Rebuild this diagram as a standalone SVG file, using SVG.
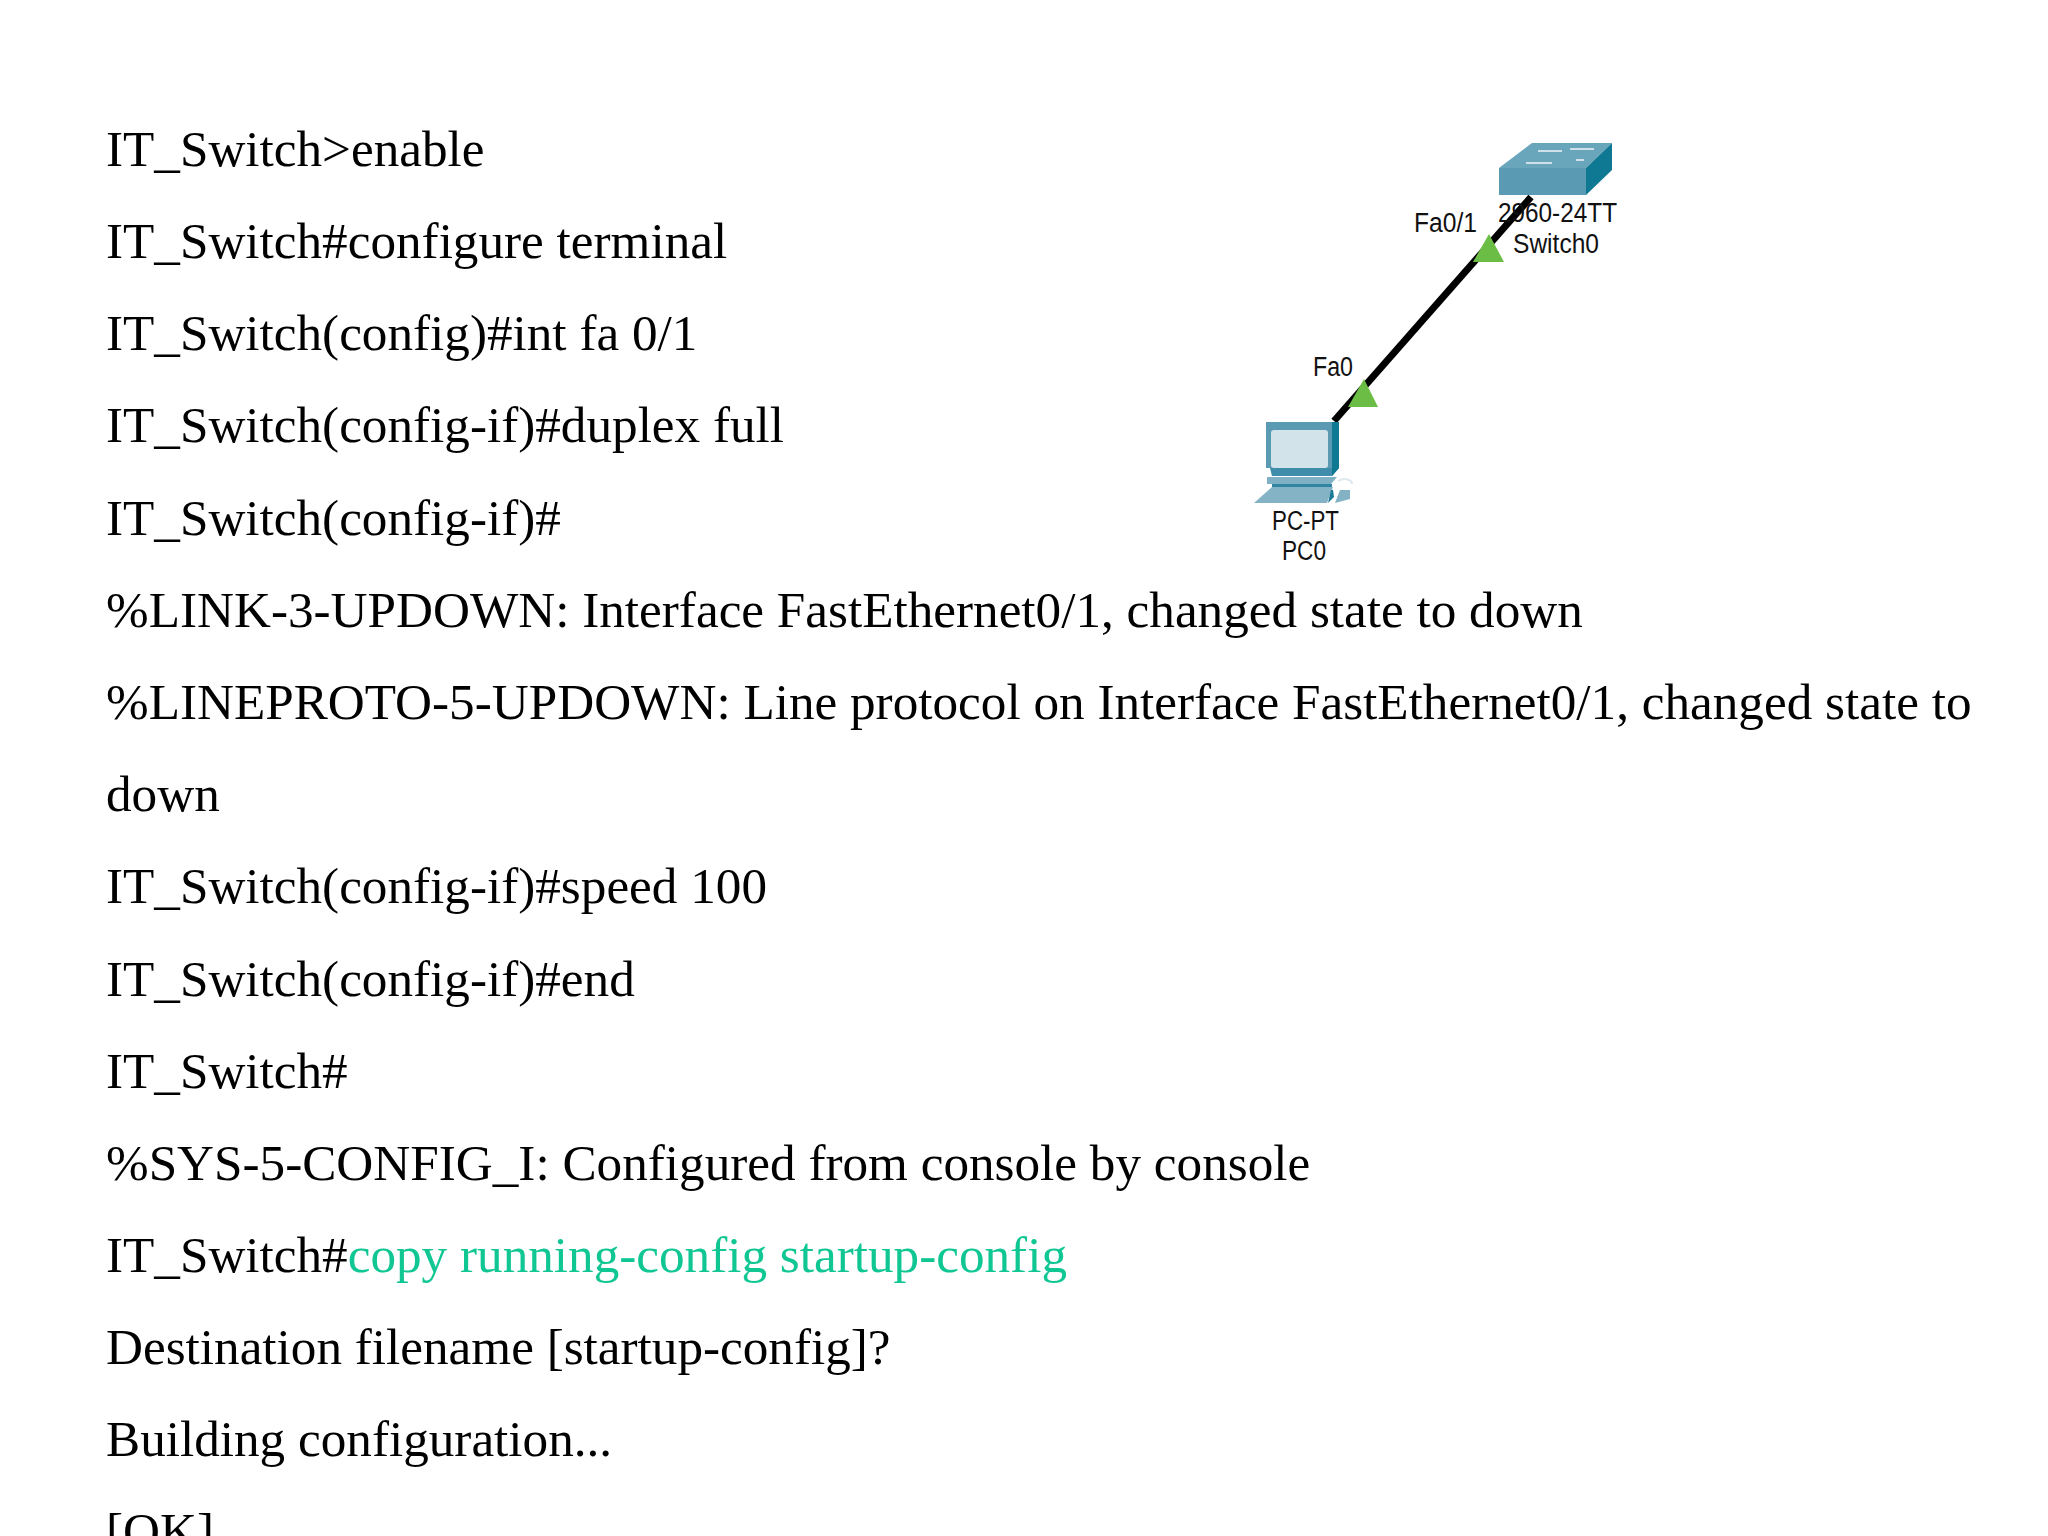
<svg xmlns="http://www.w3.org/2000/svg" width="2048" height="1536" viewBox="0 0 2048 1536">
<style>
.t{font-family:"Liberation Serif","Times New Roman",serif;font-size:51.2px;fill:#000}
.g{fill:#10c794}
.l{font-family:"Liberation Sans",Arial,sans-serif;font-size:27px;fill:#111}
.tri{fill:#6cbd45}
</style>
<rect width="2048" height="1536" fill="#fff"/>
<g id="console-text">
<text class="t" x="106" y="165.7">IT_Switch&gt;enable</text>
<text class="t" x="106" y="257.9">IT_Switch#configure terminal</text>
<text class="t" x="106" y="350.1">IT_Switch(config)#int fa 0/1</text>
<text class="t" x="106" y="442.3">IT_Switch(config-if)#duplex full</text>
<text class="t" x="106" y="534.5">IT_Switch(config-if)#</text>
<text class="t" x="106" y="626.7">%LINK-3-UPDOWN: Interface FastEthernet0/1, changed state to down</text>
<text class="t" x="106" y="718.9">%LINEPROTO-5-UPDOWN: Line protocol on Interface FastEthernet0/1, changed state to</text>
<text class="t" x="106" y="811.1">down</text>
<text class="t" x="106" y="903.3">IT_Switch(config-if)#speed 100</text>
<text class="t" x="106" y="995.5">IT_Switch(config-if)#end</text>
<text class="t" x="106" y="1087.7">IT_Switch#</text>
<text class="t" x="106" y="1179.9">%SYS-5-CONFIG_I: Configured from console by console</text>
<text class="t" x="106" y="1272">IT_Switch#<tspan class="g">copy running-config startup-config</tspan></text>
<text class="t" x="106" y="1364">Destination filename [startup-config]?</text>
<text class="t" x="106" y="1456">Building configuration...</text>
<text class="t" x="106" y="1548">[OK]</text>
</g>
<g id="connectors">
<line x1="1334" y1="421" x2="1531" y2="197" stroke="#000" stroke-width="7"/>
<polygon class="tri" points="1489,234 1473,262 1504,262"/>
<polygon class="tri" points="1364,379 1348,407 1378,407"/>
</g>
<g id="switch0">
<polygon points="1499,168 1532,143 1612,143 1586,168" fill="#6aa6bb"/>
<polygon points="1499,168 1586,168 1586,195 1499,195" fill="#5b9ab3"/>
<polygon points="1586,168 1612,143 1612,170 1586,195" fill="#0f7892"/>
<path d="M1538,151H1562M1570,149H1594M1526,163H1552M1576,160H1584" stroke="#cfe2e9" stroke-width="2" fill="none"/>
<text class="l" x="1498" y="222" textLength="119" lengthAdjust="spacingAndGlyphs">2960-24TT</text>
<text class="l" x="1513" y="253" textLength="86" lengthAdjust="spacingAndGlyphs">Switch0</text>
<text class="l" x="1414" y="232" textLength="63" lengthAdjust="spacingAndGlyphs">Fa0/1</text>
</g>
<g id="pc0">
<rect x="1266" y="422" width="73" height="46" fill="#5b9ab3"/>
<polygon points="1270,468 1339,468 1332,476 1272,476" fill="#3f8cab"/>
<polygon points="1332,422 1339,422 1339,468 1332,476" fill="#0f7892"/>
<rect x="1271" y="430" width="57" height="38" rx="3" fill="#d2e3ea"/>
<polygon points="1267,477 1337,477 1331,484 1267,484" fill="#7fb0c3"/>
<rect x="1272" y="484" width="60" height="4" fill="#2f86a3"/>
<polygon points="1272,487 1333,487 1327,503 1254,503" fill="#84b3c5"/>
<polygon points="1333,490 1334,497 1328,503 1331,490" fill="#1b7a95"/>
<polygon points="1340,490 1350,490 1350,499 1335,503" fill="#82b2c4"/>
<path d="M1338,481C1345,477 1352,480 1352,484" stroke="#dde9ee" stroke-width="2" fill="none"/>
<text class="l" x="1272" y="530" textLength="67" lengthAdjust="spacingAndGlyphs">PC-PT</text>
<text class="l" x="1282" y="560" textLength="44" lengthAdjust="spacingAndGlyphs">PC0</text>
<text class="l" x="1313" y="376" textLength="40" lengthAdjust="spacingAndGlyphs">Fa0</text>
</g>
</svg>
